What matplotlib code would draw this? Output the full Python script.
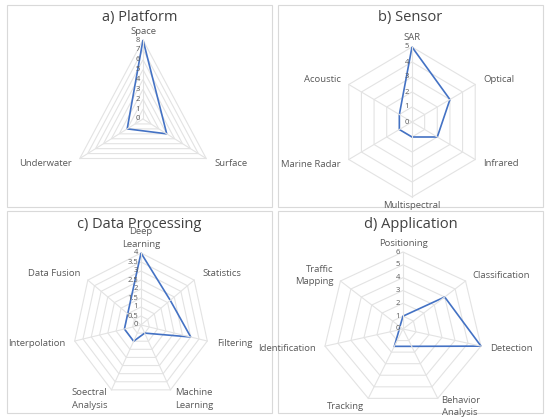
import numpy as np
import matplotlib
matplotlib.use("Agg")
import matplotlib.pyplot as plt

plt.rcParams["font.family"] = ["Open Sans", "DejaVu Sans"]

platform_cats = ["Space", "Surface", "Underwater"]
platform_vals = [8, 3, 2]
sensor_cats = ["SAR", "Optical", "Infrared", "Multispectral", "Marine Radar", "Acoustic"]
sensor_vals = [5, 3, 2, 1, 1, 1]
proc_cats = ["Deep\nLearning", "Statistics", "Filtering", "Machine\nLearning",
             "Soectral\nAnalysis", "Interpolation", "Data Fusion"]
proc_vals = [4, 2.2, 3, 0.5, 1, 1, 1]
app_cats = ["Positioning", "Classification", "Detection", "Behavior\nAnalysis",
            "Tracking", "Identification", "Traffic\nMapping"]
app_vals = [1, 4, 6, 1.5, 1.5, 0.3, 0.3]

GRID = "#e3e3e3"
LINE = "#4472c4"
TXT = "#595959"


def radar(ax, box, title, cats, vals, vmax, step, center, Rx, Ry, off=10):
    x0, y0, x1, y1 = box
    ax.add_patch(plt.Rectangle((x0, y0), x1 - x0, y1 - y0, fill=False, ec="#d9d9d9", lw=0.8))
    ax.text((x0 + x1) / 2, y0 + 13, title, ha="center", va="center", fontsize=10.5, color="#404040")
    n = len(cats)
    ang = np.pi / 2 - 2 * np.pi * np.arange(n) / n
    cx, cy = center
    for lev in np.arange(step, vmax + step / 2, step):
        f = lev / vmax
        ax.fill(cx + f * Rx * np.cos(ang), cy - f * Ry * np.sin(ang), fill=False, ec=GRID, lw=0.8)
    for a in ang:
        ax.plot([cx, cx + Rx * np.cos(a)], [cy, cy - Ry * np.sin(a)], color=GRID, lw=0.8)
    for lev in np.arange(0, vmax + step / 2, step):
        ax.text(cx - 3, cy - lev / vmax * Ry, "{:g}".format(lev), ha="right", va="center",
                fontsize=5.5, color=TXT)
    for c, a in zip(cats, ang):
        ca = np.cos(a)
        lx = cx + (Rx + off) * ca
        ly = cy - (Ry + off) * np.sin(a)
        if abs(ca) < 0.2:
            ha = "center"
            ly -= 5 * np.sign(np.sin(a)) * (c.count("\n"))
        else:
            ha = "left" if ca > 0 else "right"
        ax.text(lx, ly, c, ha=ha, va="center", fontsize=6.8, color=TXT, linespacing=1.5)
    f = np.array(vals) / vmax
    ax.fill(cx + f * Rx * np.cos(ang), cy - f * Ry * np.sin(ang), fill=False, ec=LINE, lw=1.2)


fig = plt.figure(figsize=(5.5, 4.18), dpi=100)
ax = fig.add_axes([0, 0, 1, 1])
ax.set_xlim(0, 550)
ax.set_ylim(418, 0)
ax.axis("off")

radar(ax, (7, 5, 272, 207), "a) Platform", platform_cats, platform_vals, 8, 1, (143, 119), 73, 79, off=9)
radar(ax, (278, 5, 543, 207), "b) Sensor", sensor_cats, sensor_vals, 5, 1, (412, 122), 73, 75, off=9)
radar(ax, (7, 211, 272, 413), "c) Data Processing", proc_cats, proc_vals, 4, 0.5, (141, 325), 68, 72, off=10)
radar(ax, (278, 211, 543, 413), "d) Application", app_cats, app_vals, 6, 1, (403, 329), 80, 77, off=9)

fig.savefig("out.png", dpi=100)
